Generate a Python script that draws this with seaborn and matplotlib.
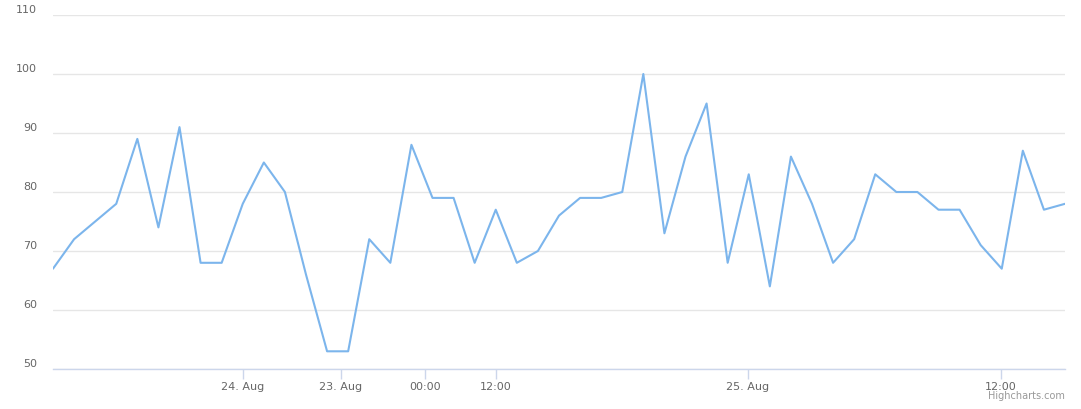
import matplotlib
matplotlib.use("Agg")
import matplotlib.pyplot as plt
import seaborn as sns
import pandas as pd
import numpy as np

values = [67, 72, 75, 78, 89, 74, 91, 68, 68, 78, 85, 80, 66, 53, 53, 72, 68, 88,
          79, 79, 68, 77, 68, 70, 76, 79, 79, 80, 100, 73, 86, 95, 68, 83, 64, 86,
          78, 68, 72, 83, 80, 80, 77, 77, 71, 67, 87, 77, 78]
tick_labels = ["24. Aug", "23. Aug", "00:00", "12:00", "25. Aug", "12:00"]
tick_positions = [9.0, 13.65, 17.64, 21.0, 32.96, 44.97]
y_ticks = [50, 60, 70, 80, 90, 100, 110]

df = pd.DataFrame({"idx": np.arange(len(values)), "value": values})

sns.set_theme(style="white")
plt.rcParams["font.family"] = ["DejaVu Sans"]

W, H = 1081, 409
fig = plt.figure(figsize=(W / 100, H / 100), dpi=100)
ax = fig.add_axes([53 / W, 1 - 369 / H, (1065 - 53) / W, (369 - 15) / H])

sns.lineplot(data=df, x="idx", y="value", ax=ax, color="#7cb5ec", linewidth=1.5)

ax.set_xlim(0, len(values) - 1)
ax.set_ylim(50, 110)
ax.set_yticks(y_ticks)
ax.set_yticklabels([str(v) for v in y_ticks])
ax.set_xticks(tick_positions)
ax.set_xticklabels(tick_labels)
ax.set_xlabel("")
ax.set_ylabel("")

ax.grid(axis="y", color="#e6e6e6", linewidth=1)
ax.grid(axis="x", visible=False)
ax.set_axisbelow(True)
for s in ["top", "right", "left"]:
    ax.spines[s].set_visible(False)
ax.spines["bottom"].set_color("#ccd6eb")
ax.spines["bottom"].set_linewidth(1)

ax.tick_params(axis="y", length=0, pad=11.5, labelsize=8, labelcolor="#666666")
ax.tick_params(axis="x", length=7.2, width=1, color="#ccd6eb", pad=2,
               labelsize=8, labelcolor="#666666", bottom=True)
for lab in ax.get_yticklabels():
    lab.set_verticalalignment("bottom")

fig.text(1065 / W, 1 - 396 / H, "Highcharts.com", ha="right", va="center",
         fontsize=7, color="#999999")

fig.savefig("out.png", dpi=100)
